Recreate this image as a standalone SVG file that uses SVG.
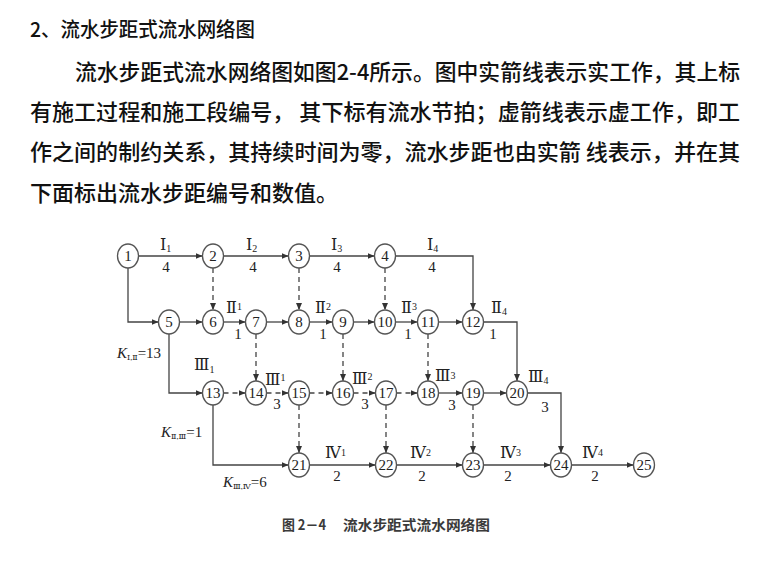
<svg xmlns="http://www.w3.org/2000/svg" width="760" height="570" viewBox="0 0 760 570">
<defs>
<marker id="arr" markerWidth="8" markerHeight="6" refX="7" refY="3" orient="auto" markerUnits="userSpaceOnUse">
<path d="M0,0 L7,3 L0,6 z" fill="#333"/>
</marker>
<style>
.body{font-family:"Noto Sans CJK SC","Noto Sans",sans-serif;font-size:22px;font-weight:500;fill:#111}
.title{font-family:"Noto Sans CJK SC","Noto Sans",sans-serif;font-size:20px;font-weight:500;fill:#111}
.cap{font-family:"Noto Sans CJK SC","Noto Sans",sans-serif;font-size:14px;font-weight:bold;fill:#3a3a3a}
.node ellipse{fill:#fff;stroke:#555;stroke-width:1.3}
.node text{font-family:"Liberation Serif","DejaVu Serif",serif;font-size:15px;fill:#222;text-anchor:middle}
.e{fill:none;stroke:#444;stroke-width:1.3;marker-end:url(#arr)}
.d{stroke-dasharray:5 4}
.lab{font-family:"Liberation Serif","DejaVu Serif",serif;font-size:16px;fill:#222}
.sub{font-size:10px}
.num{font-family:"Liberation Serif","DejaVu Serif",serif;font-size:15px;fill:#222;text-anchor:middle}
.k{font-family:"Liberation Serif","DejaVu Serif",serif;font-size:15px;fill:#222}
</style>
</defs>
<rect width="760" height="570" fill="#fff"/>

<g id="text">
<text class="title" x="30" y="37" textLength="225" lengthAdjust="spacingAndGlyphs">2、流水步距式流水网络图</text>
<text class="body" x="75" y="80" textLength="665" lengthAdjust="spacingAndGlyphs">流水步距式流水网络图如图2-4所示。图中实箭线表示实工作，其上标</text>
<text class="body" x="30" y="120" textLength="710" lengthAdjust="spacingAndGlyphs">有施工过程和施工段编号， 其下标有流水节拍；虚箭线表示虚工作，即工</text>
<text class="body" x="30" y="160" textLength="710" lengthAdjust="spacingAndGlyphs">作之间的制约关系，其持续时间为零，流水步距也由实箭 线表示，并在其</text>
<text class="body" x="30" y="201" textLength="308" lengthAdjust="spacingAndGlyphs">下面标出流水步距编号和数值。</text>
<text class="cap" x="282" y="530" textLength="44" lengthAdjust="spacingAndGlyphs">图 2－4</text>
<text class="cap" x="343" y="530" textLength="147" lengthAdjust="spacingAndGlyphs">流水步距式流水网络图</text>
</g>

<g id="connectors">
<line class="e" x1="138.5" y1="256" x2="202.5" y2="256"/>
<line class="e" x1="223.5" y1="256" x2="288.5" y2="256"/>
<line class="e" x1="309.5" y1="256" x2="374.5" y2="256"/>
<path class="e" d="M395.5,256 H473 V310"/>
<path class="e" d="M128,268 V322 H158.5"/>
<line class="e d" x1="213" y1="268" x2="213" y2="310"/>
<line class="e d" x1="299" y1="268" x2="299" y2="310"/>
<line class="e d" x1="385" y1="268" x2="385" y2="310"/>
<line class="e" x1="179.5" y1="322" x2="202.5" y2="322"/>
<line class="e" x1="223.5" y1="322" x2="245.5" y2="322"/>
<line class="e" x1="266.5" y1="322" x2="288.5" y2="322"/>
<line class="e" x1="309.5" y1="322" x2="332.5" y2="322"/>
<line class="e" x1="353.5" y1="322" x2="374.5" y2="322"/>
<line class="e" x1="395.5" y1="322" x2="417.5" y2="322"/>
<line class="e" x1="438.5" y1="322" x2="462.5" y2="322"/>
<path class="e" d="M483.5,322 H517 V381"/>
<path class="e" d="M169,334 V393 H202.5"/>
<line class="e d" x1="256" y1="334" x2="256" y2="381"/>
<line class="e d" x1="343" y1="334" x2="343" y2="381"/>
<line class="e d" x1="428" y1="334" x2="428" y2="381"/>
<line class="e d" x1="223.5" y1="393" x2="245.5" y2="393"/>
<line class="e d" x1="266.5" y1="393" x2="288.5" y2="393"/>
<line class="e d" x1="309.5" y1="393" x2="332.5" y2="393"/>
<line class="e d" x1="353.5" y1="393" x2="375.5" y2="393"/>
<line class="e d" x1="396.5" y1="393" x2="417.5" y2="393"/>
<line class="e" x1="438.5" y1="393" x2="462.5" y2="393"/>
<line class="e" x1="483.5" y1="393" x2="506.5" y2="393"/>
<path class="e" d="M527.5,393 H561 V453"/>
<path class="e" d="M213,405 V465 H288.5"/>
<line class="e d" x1="299" y1="405" x2="299" y2="453"/>
<line class="e d" x1="386" y1="405" x2="386" y2="453"/>
<line class="e d" x1="473" y1="405" x2="473" y2="453"/>
<line class="e" x1="309.5" y1="465" x2="375.5" y2="465"/>
<line class="e" x1="396.5" y1="465" x2="462.5" y2="465"/>
<line class="e" x1="483.5" y1="465" x2="550.5" y2="465"/>
<line class="e" x1="571.5" y1="465" x2="633.5" y2="465"/>
</g>

<g id="labels">
<text class="lab" x="160" y="250">Ⅰ<tspan class="sub" dy="2">1</tspan></text>
<text class="lab" x="246" y="250">Ⅰ<tspan class="sub" dy="2">2</tspan></text>
<text class="lab" x="331" y="250">Ⅰ<tspan class="sub" dy="2">3</tspan></text>
<text class="lab" x="427" y="250">Ⅰ<tspan class="sub" dy="2">4</tspan></text>
<text class="num" x="166" y="272">4</text>
<text class="num" x="253" y="272">4</text>
<text class="num" x="337" y="272">4</text>
<text class="num" x="432" y="272">4</text>

<text class="lab" x="226" y="313">Ⅱ<tspan class="sub" dy="-3">1</tspan></text>
<text class="lab" x="315" y="313">Ⅱ<tspan class="sub" dy="-3">2</tspan></text>
<text class="lab" x="401" y="313">Ⅱ<tspan class="sub" dy="-3">3</tspan></text>
<text class="lab" x="491" y="313">Ⅱ<tspan class="sub" dy="2">4</tspan></text>
<text class="num" x="238" y="339">1</text>
<text class="num" x="323" y="339">1</text>
<text class="num" x="408" y="339">1</text>
<text class="num" x="493" y="339">1</text>

<text class="lab" x="194" y="370">Ⅲ<tspan class="sub" dy="3">1</tspan></text>
<text class="lab" x="265" y="385">Ⅲ<tspan class="sub" dy="-4">1</tspan></text>
<text class="lab" x="352" y="384">Ⅲ<tspan class="sub" dy="-4">2</tspan></text>
<text class="lab" x="435" y="381">Ⅲ<tspan class="sub" dy="-2">3</tspan></text>
<text class="lab" x="528" y="382">Ⅲ<tspan class="sub" dy="2">4</tspan></text>
<text class="num" x="277" y="409">3</text>
<text class="num" x="365" y="409">3</text>
<text class="num" x="452" y="410">3</text>
<text class="num" x="545" y="412">3</text>

<text class="lab" x="325" y="458">Ⅳ<tspan class="sub" dy="-2">1</tspan></text>
<text class="lab" x="410" y="458">Ⅳ<tspan class="sub" dy="-2">2</tspan></text>
<text class="lab" x="500" y="458">Ⅳ<tspan class="sub" dy="-2">3</tspan></text>
<text class="lab" x="582" y="458">Ⅳ<tspan class="sub" dy="-2">4</tspan></text>
<text class="num" x="337" y="481">2</text>
<text class="num" x="422" y="481">2</text>
<text class="num" x="508" y="481">2</text>
<text class="num" x="595" y="481">2</text>

<text class="k" x="117" y="358"><tspan font-style="italic">K</tspan><tspan font-size="8" dy="2">Ⅰ,Ⅱ</tspan><tspan dy="-2">=13</tspan></text>
<text class="k" x="161" y="437"><tspan font-style="italic">K</tspan><tspan font-size="8" dy="2">Ⅱ,Ⅲ</tspan><tspan dy="-2">=1</tspan></text>
<text class="k" x="223" y="487"><tspan font-style="italic">K</tspan><tspan font-size="8" dy="2">Ⅲ,Ⅳ</tspan><tspan dy="-2">=6</tspan></text>
</g>

<g id="n1" class="node"><ellipse cx="128" cy="256" rx="10.5" ry="12"/><text x="128" y="261">1</text></g>
<g id="n2" class="node"><ellipse cx="213" cy="256" rx="10.5" ry="12"/><text x="213" y="261">2</text></g>
<g id="n3" class="node"><ellipse cx="299" cy="256" rx="10.5" ry="12"/><text x="299" y="261">3</text></g>
<g id="n4" class="node"><ellipse cx="385" cy="256" rx="10.5" ry="12"/><text x="385" y="261">4</text></g>
<g id="n5" class="node"><ellipse cx="169" cy="322" rx="10.5" ry="12"/><text x="169" y="327">5</text></g>
<g id="n6" class="node"><ellipse cx="213" cy="322" rx="10.5" ry="12"/><text x="213" y="327">6</text></g>
<g id="n7" class="node"><ellipse cx="256" cy="322" rx="10.5" ry="12"/><text x="256" y="327">7</text></g>
<g id="n8" class="node"><ellipse cx="299" cy="322" rx="10.5" ry="12"/><text x="299" y="327">8</text></g>
<g id="n9" class="node"><ellipse cx="343" cy="322" rx="10.5" ry="12"/><text x="343" y="327">9</text></g>
<g id="n10" class="node"><ellipse cx="385" cy="322" rx="10.5" ry="12"/><text x="385" y="327">10</text></g>
<g id="n11" class="node"><ellipse cx="428" cy="322" rx="10.5" ry="12"/><text x="428" y="327">11</text></g>
<g id="n12" class="node"><ellipse cx="473" cy="322" rx="10.5" ry="12"/><text x="473" y="327">12</text></g>
<g id="n13" class="node"><ellipse cx="213" cy="393" rx="10.5" ry="12"/><text x="213" y="398">13</text></g>
<g id="n14" class="node"><ellipse cx="256" cy="393" rx="10.5" ry="12"/><text x="256" y="398">14</text></g>
<g id="n15" class="node"><ellipse cx="299" cy="393" rx="10.5" ry="12"/><text x="299" y="398">15</text></g>
<g id="n16" class="node"><ellipse cx="343" cy="393" rx="10.5" ry="12"/><text x="343" y="398">16</text></g>
<g id="n17" class="node"><ellipse cx="386" cy="393" rx="10.5" ry="12"/><text x="386" y="398">17</text></g>
<g id="n18" class="node"><ellipse cx="428" cy="393" rx="10.5" ry="12"/><text x="428" y="398">18</text></g>
<g id="n19" class="node"><ellipse cx="473" cy="393" rx="10.5" ry="12"/><text x="473" y="398">19</text></g>
<g id="n20" class="node"><ellipse cx="517" cy="393" rx="10.5" ry="12"/><text x="517" y="398">20</text></g>
<g id="n21" class="node"><ellipse cx="299" cy="465" rx="10.5" ry="12"/><text x="299" y="470">21</text></g>
<g id="n22" class="node"><ellipse cx="386" cy="465" rx="10.5" ry="12"/><text x="386" y="470">22</text></g>
<g id="n23" class="node"><ellipse cx="473" cy="465" rx="10.5" ry="12"/><text x="473" y="470">23</text></g>
<g id="n24" class="node"><ellipse cx="561" cy="465" rx="10.5" ry="12"/><text x="561" y="470">24</text></g>
<g id="n25" class="node"><ellipse cx="644" cy="465" rx="10.5" ry="12"/><text x="644" y="470">25</text></g>
</svg>
